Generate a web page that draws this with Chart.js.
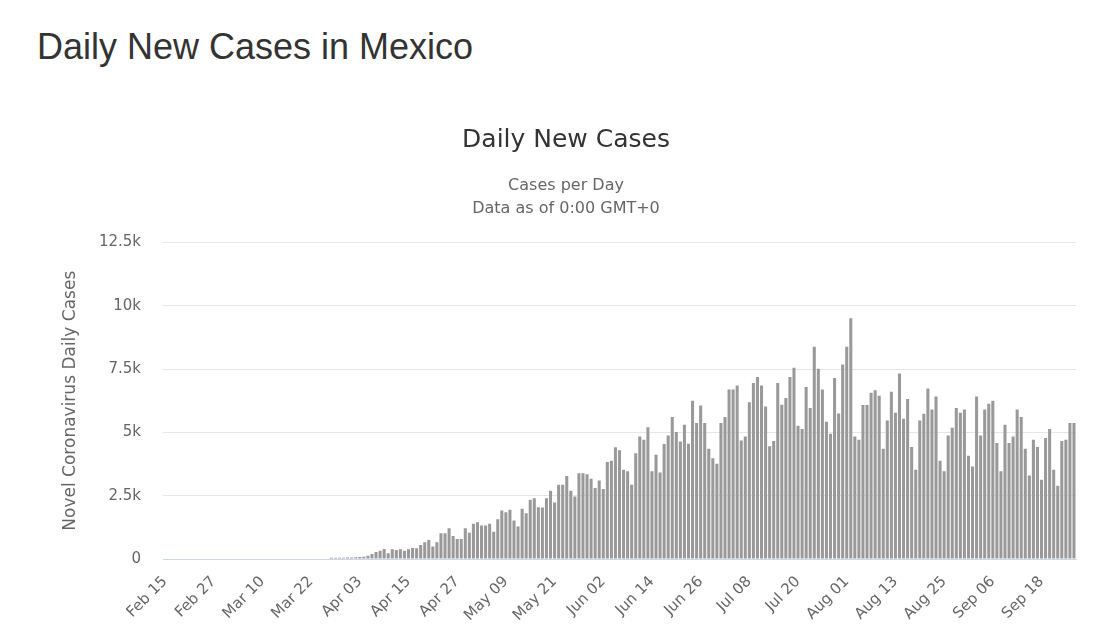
<!DOCTYPE html>
<html>
<head>
<meta charset="utf-8">
<title>Daily New Cases in Mexico</title>
<script src="https://cdn.jsdelivr.net/npm/chart.js@4.4.1/dist/chart.umd.min.js"></script>
<style>
  body { margin: 0; background: #fff; width: 1103px; height: 644px; overflow: hidden; }
  h1 {
    position: absolute; left: 37px; top: 26px; margin: 0;
    font: 36px "Liberation Sans", Arial, sans-serif; color: #333; font-weight: normal;
  }
  #wrap { position: absolute; left: 0; top: 100px; width: 1103px; height: 544px; }
</style>
</head>
<body>
<h1>Daily New Cases in Mexico</h1>
<div id="wrap"><canvas id="daily-cases"></canvas></div>
<script>
// one bar per day, Feb 15 .. Sep 26
const startDay = new Date(2020, 1, 15)
const dayCount = 225
const months = ['Jan', 'Feb', 'Mar', 'Apr', 'May', 'Jun', 'Jul', 'Aug', 'Sep', 'Oct', 'Nov', 'Dec']

const days = []
for (let i = 0; i < dayCount; i++) {
  const d = new Date(startDay.getFullYear(), startDay.getMonth(), startDay.getDate() + i)
  days.push(months[d.getMonth()] + ' ' + String(d.getDate()).padStart(2, '0'))
}

const tickLabels = ['Feb 15', 'Feb 27', 'Mar 10', 'Mar 22', 'Apr 03', 'Apr 15', 'Apr 27', 'May 09',
  'May 21', 'Jun 02', 'Jun 14', 'Jun 26', 'Jul 08', 'Jul 20', 'Aug 01', 'Aug 13', 'Aug 25', 'Sep 06', 'Sep 18']

const yTicks = [0, 2500, 5000, 7500, 10000, 12500]

// nothing readable before late March
const newCases = [
  0, 0, 0, 0, 0, 0, 0, 0, 0, 0, 0, 0, 0,
  0, 0, 0, 0, 0, 0, 0, 0, 0, 0, 0, 0, 0, 0, 0, 0, 0, 0, 0, 0, 0, 0, 0, 0, 0, 0, 0, 20,
  45, 48, 52, 50, 58, 62, 66, 75,
  92, 132, 198, 277, 330, 396, 224, 383, 356, 383, 330, 383, 435,
  420, 550, 660, 750, 490, 660, 1020, 1020, 1210, 910, 790, 790, 1210, 1040, 1390, 1450, 1320, 1320, 1390, 1080, 1570, 1910, 1850,
  1940, 1520, 1280, 1980, 1810, 2340, 2400, 2040, 2030, 2400, 2690, 2230, 2930, 2930, 3280, 2690, 2470, 3390, 3390, 3350, 3170, 2800, 3100, 2760,
  3830, 3880, 4410, 4290, 3520, 3460, 2930, 4180, 4840, 4710, 5200, 3460, 4120, 3420, 4540, 4880, 5610, 5010, 4640, 5300, 4550, 6250, 5370,
  6060, 5370, 4350, 3980, 3760, 5370, 5610, 6690, 6690, 6850, 4680, 4840, 6190, 6950, 7190, 6850, 6020, 4450, 4660, 6950, 6090, 6360, 7190, 7550,
  5260, 5130, 6790, 5960, 8380, 7510, 6690, 5420, 4950, 7150, 5740, 7680, 8380, 9510, 4840, 4710, 6080, 6080, 6560, 6660, 6450, 4350, 5470,
  6600, 5770, 7320, 5540, 6320, 4420, 3520, 5470, 5730, 6730, 5900, 6420, 3880, 3460, 4880, 5180, 5960, 5770, 5900, 4080, 3650, 6420, 4880,
  5900, 6130, 6250, 4580, 3460, 5300, 4580, 4840, 5900, 5610, 4350, 3300, 4710, 4420, 3130, 4780, 5130, 3520, 2890, 4660, 4710, 5370, 5370
]

Chart.defaults.font.family = '"DejaVu Sans", sans-serif'
Chart.defaults.color = '#666'

const ctx = document.getElementById('daily-cases').getContext('2d')

const casesChart = new Chart(ctx, {
  type: 'bar',
  data: {
    labels: days,
    datasets: [{
      label: 'Daily Cases',
      data: newCases,
      backgroundColor: '#999999',
      barPercentage: 0.75,
      categoryPercentage: 1
    }]
  },
  options: {
    responsive: true,
    maintainAspectRatio: false,
    animation: false,
    layout: { padding: { top: 0, left: 56, right: 27, bottom: 0 } },
    plugins: {
      legend: { display: false },
      tooltip: { enabled: false },
      title: {
        display: true,
        text: 'Daily New Cases',
        color: '#333',
        font: { size: 25, weight: 'normal' },
        padding: { top: 25, bottom: 19 }
      },
      subtitle: {
        display: true,
        text: ['Cases per Day', 'Data as of 0:00 GMT+0'],
        color: '#666',
        font: { size: 16, lineHeight: 1.45 },
        padding: { top: 0, bottom: 22 }
      }
    },
    scales: {
      x: {
        grid: { display: false },
        border: { display: true, color: '#ccd6eb', width: 1 },
        afterFit: s => { s.height = 85 },
        ticks: {
          autoSkip: false,
          maxRotation: 45,
          minRotation: 45,
          padding: 6,
          font: { size: 15 },
          callback: function (v, i) {
            const name = this.getLabelForValue(v)
            return tickLabels.includes(name) && i % 12 === 0 ? name : ''
          }
        }
      },
      y: {
        min: 0,
        max: 12500,
        afterFit: s => { s.width = 107 },
        afterBuildTicks: s => { s.ticks = yTicks.map(v => ({ value: v })) },
        grid: { color: '#e6e6e6', drawTicks: false },
        border: { display: false },
        title: {
          display: true,
          text: 'Novel Coronavirus Daily Cases',
          color: '#666',
          font: { size: 17 }
        },
        ticks: {
          padding: 22,
          font: { size: 15 },
          callback: v => v === 0 ? '0' : (v / 1000) + 'k'
        }
      }
    }
  }
})
</script>
</body>
</html>
